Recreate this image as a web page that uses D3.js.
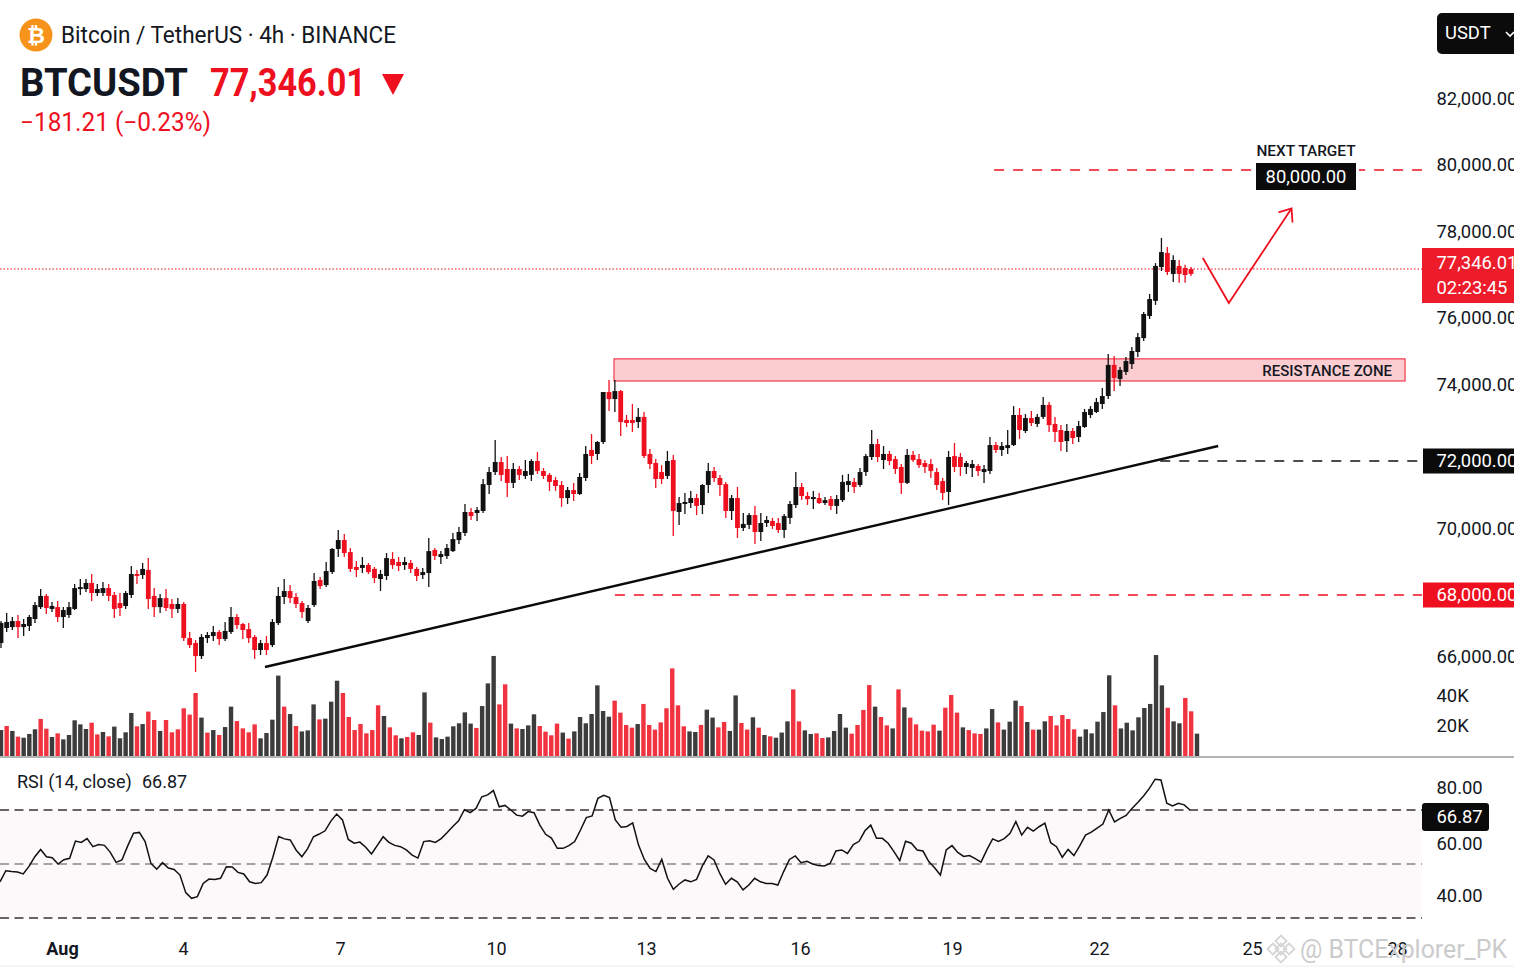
<!DOCTYPE html>
<html>
<head>
<meta charset="utf-8">
<title>BTCUSDT</title>
<script src="https://cdn.jsdelivr.net/npm/d3@7"></script>
<style>
  html, body { margin: 0; padding: 0; background: #fff; overflow: hidden; }
  text { font-family: Roboto, "Noto Sans", sans-serif; fill: #131722; }
  .axis-label text { font-size: 18.4px; }
  .axis-label .domain { display: none; }
</style>
</head>
<body>
<div id="vis"></div>
<script>
// candles: open, high, low, close
const candles = [
[66450,67160,66290,67095],[66935,67420,66805,67130],[66965,67290,66870,67160],[67160,67355,66610,66965],[66965,67225,66675,67065],
[67000,67355,66840,67290],[67225,67775,67095,67675],[67610,68180,67550,67970],[67970,68030,67385,67580],[67550,67775,67450,67645],
[67610,67805,67130,67290],[67290,67610,66935,67515],[67355,67775,67255,67610],[67550,68330,67520,68210],[68180,68485,68000,68240],
[68180,68485,68090,68365],[68365,68635,67805,68060],[68060,68330,67970,68180],[68060,68395,67970,68210],[68210,68330,67805,67970],
[68000,68090,67255,67550],[67740,68060,67320,67580],[67645,68120,67550,68060],[68000,68880,67900,68635],[68635,68760,68330,68575],
[68605,68970,68485,68790],[68760,69120,67550,67870],[67970,68210,67290,67610],[67610,68030,67420,67900],[67900,68180,67485,67580],
[67710,67870,67255,67550],[67550,67900,67420,67710],[67710,67775,66515,66610],[66610,66805,66290,66385],[66450,66550,65515,66030],
[66030,66740,65935,66645],[66610,66805,66450,66710],[66675,67000,66515,66805],[66805,66870,66385,66580],[66580,67130,66515,66840],
[66805,67610,66740,67290],[67290,67385,66900,67030],[67065,67095,66580,66870],[66900,67095,66450,66610],[66645,66710,65935,66225],
[66225,66550,66065,66450],[66450,66675,66065,66225],[66385,67225,66320,67130],[67095,68240,67030,67970],[67935,68485,67710,68120],
[68120,68300,67740,67900],[67935,68060,67580,67710],[67740,67805,67255,67450],[67160,67675,67095,67580],[67675,68665,67610,68425],
[68455,68545,68180,68270],[68300,69000,68240,68725],[68695,69425,68635,69395],[69395,69970,69150,69665],[69665,69850,69150,69270],
[69300,69425,68695,68790],[68850,69030,68545,68760],[68820,69150,68665,68910],[68910,68970,68635,68695],[68790,68850,68365,68515],
[68485,68760,68120,68635],[68575,69270,68455,69120],[69090,69300,68790,68910],[69000,69150,68725,68880],[68910,69150,68760,69000],
[68970,69060,68665,68790],[68790,68850,68425,68575],[68605,68820,68485,68695],[68665,69730,68240,69330],[69365,69425,69060,69180],
[69150,69330,68940,69240],[69180,69545,69090,69425],[69330,69880,69300,69695],[69665,70060,69545,69910],[69880,70735,69790,70500],
[70500,70620,70265,70380],[70470,70650,70235,70560],[70530,71470,70470,71320],[71295,71825,71030,71675],[71675,72550,71590,71970],
[71970,72105,71410,71590],[71765,72130,70940,71355],[71355,71940,71205,71765],[71765,71855,71440,71590],[71560,72025,71470,71705],
[71590,72050,71410,72000],[72000,72235,71620,71705],[71705,71795,71470,71560],[71590,71645,71120,71385],[71440,71530,71120,71265],
[71295,71410,70650,70910],[70910,71235,70735,71145],[71145,71355,70825,71030],[71030,71645,71000,71530],[71500,72395,71410,72185],
[72290,72710,71910,72130],[72185,72525,72025,72500],[72500,73815,72445,73815],[73815,74150,73315,73630],[73630,74150,73290,73840],
[73840,73870,72660,73025],[73080,73210,72895,73000],[73080,73500,72765,73000],[73025,73395,72870,73160],[73160,73290,72080,72130],
[72185,72315,71765,71910],[71940,72050,71205,71470],[71675,71880,71320,71470],[71560,72265,71470,72000],[72025,72160,69790,70530],
[70500,70940,70120,70765],[70735,71060,70440,70795],[70765,71120,70620,70910],[70910,71030,70410,70680],[70705,71320,70440,71295],
[71295,71940,71060,71705],[71705,71825,71385,71500],[71500,71590,70970,71295],[71320,71385,70325,70530],[70530,71000,70265,70910],
[70910,71235,69730,70030],[70030,70470,69940,70150],[70120,70470,70000,70410],[70410,70680,69545,69910],[69910,70470,69635,70175],
[70175,70380,70060,70265],[70235,70325,70000,70090],[70175,70325,69880,69970],[69970,70440,69730,70380],[70325,70825,70150,70735],
[70705,71675,70620,71235],[71235,71355,70850,70970],[70970,71090,70705,70880],[70880,71120,70590,70940],[70910,71060,70735,70765],
[70765,70940,70705,70850],[70880,70970,70560,70680],[70680,71000,70440,70880],[70850,71590,70795,71385],[71295,71620,71090,71410],
[71385,71500,71060,71235],[71295,71795,71235,71675],[71675,72185,71560,72130],[72105,72815,72025,72445],[72445,72580,71970,72105],
[72025,72395,71765,72185],[72185,72265,71880,72000],[72050,72130,71620,71765],[71825,71910,71030,71355],[71355,72315,71320,72160],
[72160,72265,71970,72025],[72050,72185,71795,71880],[71940,72025,71645,71825],[71910,72050,71500,71705],[71675,71795,71145,71295],
[71410,71500,70850,71060],[71090,72265,70705,72105],[72130,72475,71675,71825],[72105,72210,71560,71825],[71825,72000,71620,71940],
[71795,72025,71530,71910],[71855,71910,71560,71705],[71675,71880,71355,71765],[71705,72630,71620,72420],[72420,72500,72210,72290],
[72290,72500,72130,72395],[72340,72815,72185,72420],[72420,73445,72395,73210],[73210,73395,72580,72815],[72790,73235,72735,73130],
[73130,73315,72920,73000],[72975,73235,72895,73160],[73160,73685,73105,73475],[73475,73550,72765,72945],[72975,73160,72500,72765],
[72815,72945,72265,72500],[72525,72975,72235,72790],[72790,72870,72445,72605],[72630,73050,72500,72920],[72895,73370,72870,73290],
[73210,73445,73130,73370],[73290,73660,73260,73550],[73500,73920,73370,73710],[73710,74925,73630,74600],[74600,74865,73840,74210],
[74180,74540,73975,74450],[74390,74835,74300,74715],[74625,75135,74480,75015],[74985,75550,74835,75430],[75400,76165,75315,76110],
[76055,76660,75970,76520],[76470,77450,76360,77400],[77380,77895,77290,77645],[77630,77735,77180,77265],[77210,77590,76990,77505],
[77400,77505,76965,77210],[77365,77420,76965,77180],[77346,77380,77155,77210]
];

// volume in thousands
const volumes = [
17.3,20,16.7,12.9,12.2,14.7,17.8,24.7,18.2,12.7,15.1,11.1,14,23.8,21.1,18,22.2,14.4,16,13.1,
19.6,11.8,15.8,28.7,19.8,21.3,29.6,24,16.7,24,15.8,17.8,31.8,27.6,42,25.6,15.6,17.3,14,19.3,
32.9,23.3,18.4,15.8,21.1,11.8,15.3,24.2,53.6,32.9,28,20,16.4,17.1,34.4,24.4,24.9,36.2,50.2,42,
26,17.3,21.3,15.1,17.3,33.8,26.7,19.1,13.8,11.8,12.7,15.8,14,42.4,22.2,12.4,11.3,12.9,19.8,21.8,
29.1,21.6,18.7,33.3,48.4,66.7,34.4,47.8,21.6,18.4,18,20.4,27.8,20,16.2,13.8,21.6,15.6,11.6,16.4,
26,21.8,28,47.1,30,26.2,36.9,28.9,20.7,18.9,21.3,34.7,20.7,17.6,22.4,31.8,58.4,33.8,19.8,16.4,
16,20.7,30.9,25.6,19.1,22.7,16.7,40.4,22,17.6,25.8,18.9,14,13.1,12.2,15.6,23.1,44.4,23.1,17.1,
14.7,15.1,12,12.4,16.7,28,18.9,14.9,20.7,30.7,47.3,32.9,26,20.4,18.4,44.4,32.4,25.6,21.1,16.9,
16.4,20.9,16.9,32.2,40.7,28.9,19.1,17.3,15.1,14.7,18.4,31.3,22.4,17.6,22.9,36.9,33.3,22.7,17.6,17.6,
23.1,26.7,20.4,27.3,24.7,17.8,12.9,17.8,15.1,22.9,29.3,53.8,33.8,18.4,22.2,17.1,25.8,32,34.7,67.3,
47.1,32.2,23.1,21.8,38.7,29.8,14.9
];
// u = up bar, d = down bar
const volumeSides = (
  'u d u d u u u d d u d u u u u u d d u d u u u u d u d d u d d d d d d u d u d u ' +
  'u d d d d u u u u d u d u u u d u u u d d d d d d d u d d u d d u u d u u u u u ' +
  'u u d u u u d d u d u u u d d d d u d u u u u u u u d d d d u d d d d d d d d u ' +
  'u d u u d d u u d d u d u d u u u d d u u d d u u u u d d d d u d d u d u d d d ' +
  'd d u d d d u d d d u u d u u u d u d u u d d d d d u u u u u u d u u u u u u u ' +
  'u d u u d d u').split(' ');

const rsiValues = [
43.4,47.5,47.2,47.0,46.3,49.1,52.7,55.4,52.7,52.3,50.0,51.6,52.1,58.5,58.0,59.4,56.4,57.2,56.9,54.3,
50.6,51.5,56.7,61.4,61.7,58.3,50.2,48.1,50.5,48.5,48.0,45.9,39.4,37.3,37.9,42.8,44.4,44.3,44.7,49.0,
48.9,46.9,46.3,43.4,42.8,43.1,45.9,52.5,60.2,59.3,58.9,55.2,52.7,55.7,60.1,61.1,62.3,65.9,68.5,66.3,
59.1,57.7,58.1,56.2,53.7,56.9,60.1,58.0,56.9,56.4,55.2,53.3,52.2,58.3,58.6,58.0,59.4,61.6,63.9,66.0,
70.1,69.0,70.6,74.9,75.6,77.2,71.2,71.7,70.0,68.1,67.7,69.4,69.0,64.4,61.0,59.6,55.8,55.8,56.8,58.3,
62.6,67.2,67.8,74.3,75.4,74.6,66.3,63.6,63.9,65.2,57.0,51.7,48.4,47.2,51.7,44.7,40.6,42.6,44.1,43.4,
44.3,49.3,53.0,51.5,46.5,42.5,44.7,43.4,40.4,42.2,44.7,43.4,42.8,42.8,42.2,47.2,51.7,53.0,50.5,51.0,
50.0,49.4,49.3,50.2,54.8,55.2,53.9,57.2,58.4,62.3,64.4,59.5,59.5,57.7,54.6,51.2,58.4,57.7,55.2,54.8,
50.9,48.6,45.9,55.2,56.8,54.3,52.8,53.1,52.0,50.7,55.2,59.3,58.4,59.4,61.4,65.7,60.7,63.6,62.2,63.8,
65.1,57.9,56.4,52.5,55.4,53.1,56.7,60.7,61.8,63.3,64.8,70.0,65.6,66.9,68.0,70.6,72.8,75.2,78.0,81.4,
81.1,72.5,71.5,72.5,71.9,70.0
];

const priceTicks = [82000, 80000, 78000, 76000, 74000, 70000, 66000];
const volumeTicks = [40, 20];
const rsiTicks = [80, 60, 40];
const rsiLevels = [70, 50, 30];
const dayTicks = [1, 4, 7, 10, 13, 16, 19, 22, 25, 28];

const lastPrice = 77346.01;
const lastRsi = 66.87;

const width = 1514;
const height = 974;
const plotRight = 1422;
const axisX = 1436.5;
const red = '#ee0f1f';
const dark = '#111111';

const svg = d3.select('#vis')
    .append('svg')
    .attr('width', width)
    .attr('height', height)
    .style('display', 'block');

// the price axis of the picture is not evenly spaced, so the scale follows its labels
const yPrice = d3.scaleLinear()
    .domain([82000, 80000, 78000, lastPrice, 76000, 74000, 72000, 70000, 68000, 66000])
    .range([99, 170, 232, 269, 318, 385, 461, 529, 595, 657]);

// bars are not quite evenly spaced either
const xCandle = d3.scaleLinear().domain([0, 26, 51, 99, 148, 202]).range([1, 148.3, 296, 585.7, 871.7, 1191]);
const xVolume = d3.scaleLinear().domain([0, 26, 51, 68, 138, 206]).range([1, 148.3, 296, 395.7, 799, 1197]);
const xRsi = d3.scaleLinear().domain([0, rsiValues.length - 1]).range([0, 1190]);
const xDay = d3.scaleLinear().domain(dayTicks).range([62, 183, 340, 496, 646, 800, 952, 1099, 1252, 1397]);

const yVolume = d3.scaleLinear().domain([0, 40]).range([756, 696]);
const yRsi = d3.scaleLinear().domain([30, 70]).range([918, 810]);
const yRsiLabel = d3.scaleLinear().domain([80, 60, 40]).range([788, 844, 896]);

// resistance zone goes behind the candles
svg.append('rect')
    .attr('x', xCandle(103.85))
    .attr('y', yPrice(74780))
    .attr('width', xCandle(238.2) - xCandle(103.85))
    .attr('height', yPrice(74120) - yPrice(74780))
    .style('fill', '#fbcdd1')
    .style('stroke', '#f0394a')
    .style('stroke-width', 1.2);

svg.append('text')
    .attr('x', 1392)
    .attr('y', 376)
    .attr('text-anchor', 'end')
    .style('font-size', '15px')
    .style('font-weight', 500)
    .text('RESISTANCE ZONE');

// last price line
svg.append('line')
    .attr('x1', 0)
    .attr('x2', plotRight)
    .attr('y1', yPrice(lastPrice))
    .attr('y2', yPrice(lastPrice))
    .style('stroke', red)
    .style('stroke-width', 1.2)
    .style('stroke-dasharray', '1.5 2');

// dashed levels
const levels = [
  {price: 80000, from: 168.7, color: red},
  {price: 72000, from: 196.8, color: dark},
  {price: 68000, from: 104, color: red}
];
svg.selectAll('.level')
    .data(levels)
    .enter()
    .append('line')
    .attr('class', 'level')
    .attr('x1', d => xCandle(d.from))
    .attr('x2', plotRight)
    .attr('y1', d => yPrice(d.price))
    .attr('y2', d => yPrice(d.price))
    .style('stroke', d => d.color)
    .style('stroke-width', 1.5)
    .style('stroke-dasharray', '10 9');

// candle wicks then bodies
const candle = svg.selectAll('.candle')
    .data(candles)
    .enter()
    .append('g')
    .attr('class', 'candle')
    .style('color', d => d[3] >= d[0] ? dark : red);

candle.append('line')
    .attr('x1', (d, i) => xCandle(i))
    .attr('x2', (d, i) => xCandle(i))
    .attr('y1', d => yPrice(d[1]))
    .attr('y2', d => yPrice(d[2]))
    .style('stroke', 'currentColor')
    .style('stroke-width', 1.3);

candle.append('rect')
    .attr('x', (d, i) => xCandle(i) - 2.4)
    .attr('width', 4.8)
    .attr('y', d => yPrice(Math.max(d[0], d[3])))
    .attr('height', d => Math.max(1.5, Math.abs(yPrice(d[0]) - yPrice(d[3]))))
    .style('fill', 'currentColor');

// trend line
svg.append('line')
    .attr('x1', xCandle(45.75))
    .attr('y1', yPrice(65677))
    .attr('x2', xCandle(206.6))
    .attr('y2', yPrice(72395))
    .style('stroke', '#0a0a0a')
    .style('stroke-width', 2.4);

// drawn projection arrow
const arrowPoints = [[204, 77541], [208.4, 76410], [219, 78760]];
const arrowLine = d3.line().x(d => xCandle(d[0])).y(d => yPrice(d[1]));
svg.append('path')
    .attr('d', arrowLine(arrowPoints))
    .style('fill', 'none')
    .style('stroke', red)
    .style('stroke-width', 1.8);
svg.append('path')
    .attr('transform', `translate(${xCandle(219)},${yPrice(78760)})`)
    .attr('d', 'M-13,4 L0,0 L1,14')
    .style('fill', 'none')
    .style('stroke', red)
    .style('stroke-width', 1.8);

// target label
svg.append('text')
    .attr('x', 1306)
    .attr('y', 156)
    .attr('text-anchor', 'middle')
    .style('font-size', '15.4px')
    .style('font-weight', 500)
    .text('NEXT TARGET');
svg.append('rect')
    .attr('x', 1253)
    .attr('y', 161)
    .attr('width', 106)
    .attr('height', 31)
    .style('fill', '#fff');
svg.append('rect')
    .attr('x', 1256)
    .attr('y', 163)
    .attr('width', 100)
    .attr('height', 27)
    .style('fill', '#0b0b0b');
svg.append('text')
    .attr('x', 1306)
    .attr('y', 183)
    .attr('text-anchor', 'middle')
    .style('font-size', '18.4px')
    .style('fill', '#fff')
    .text(d3.format(',.2f')(80000));

// volume bars
svg.selectAll('.vol')
    .data(volumes)
    .enter()
    .append('rect')
    .attr('class', 'vol')
    .attr('x', (d, i) => xVolume(i) - 2.2)
    .attr('width', 4.4)
    .attr('y', d => yVolume(d))
    .attr('height', d => yVolume(0) - yVolume(d))
    .style('fill', (d, i) => volumeSides[i] === 'd' ? red : '#1a1a1a')
    .style('opacity', 0.85);

// pane separator
svg.append('line')
    .attr('x1', 0)
    .attr('x2', width)
    .attr('y1', 757)
    .attr('y2', 757)
    .style('stroke', '#6b6b6b')
    .style('stroke-width', 1.2);

// RSI pane
svg.append('rect')
    .attr('x', 0)
    .attr('y', yRsi(70))
    .attr('width', plotRight)
    .attr('height', yRsi(30) - yRsi(70))
    .style('fill', '#fcf9fb');

svg.selectAll('.rsi-level')
    .data(rsiLevels)
    .enter()
    .append('line')
    .attr('class', 'rsi-level')
    .attr('x1', 0)
    .attr('x2', plotRight)
    .attr('y1', d => yRsi(d))
    .attr('y2', d => yRsi(d))
    .style('stroke', d => d === 50 ? '#8c8686' : '#3a3232')
    .style('stroke-width', 1.3)
    .style('stroke-dasharray', '9 5.5');

const rsiLine = d3.line()
    .x((d, i) => xRsi(i))
    .y(d => yRsi(d));

svg.append('path')
    .attr('d', rsiLine(rsiValues))
    .style('fill', 'none')
    .style('stroke', '#111')
    .style('stroke-width', 1.5);

svg.append('text')
    .attr('x', 17)
    .attr('y', 788)
    .style('font-size', '18px')
    .text('RSI (14, close)');
svg.append('text')
    .attr('x', 142)
    .attr('y', 788)
    .style('font-size', '18px')
    .text(lastRsi.toFixed(2));

// axes
svg.append('g')
    .attr('class', 'axis-label')
    .attr('transform', `translate(${axisX},0)`)
    .call(d3.axisRight(yPrice).tickValues(priceTicks).tickSize(0).tickPadding(0).tickFormat(d3.format(',.2f')))
    .call(g => g.selectAll('.tick').filter(d => d === 80000).select('text').attr('y', -5));

svg.append('g')
    .attr('class', 'axis-label')
    .attr('transform', `translate(${axisX},0)`)
    .call(d3.axisRight(yVolume).tickValues(volumeTicks).tickSize(0).tickPadding(0).tickFormat(d => d + 'K'));

svg.append('g')
    .attr('class', 'axis-label')
    .attr('transform', `translate(${axisX},0)`)
    .call(d3.axisRight(yRsiLabel).tickValues(rsiTicks).tickSize(0).tickPadding(0).tickFormat(d3.format('.2f')));

svg.append('g')
    .attr('class', 'axis-label')
    .attr('transform', 'translate(0,944)')
    .call(d3.axisBottom(xDay).tickValues(dayTicks).tickSize(0).tickPadding(0).tickFormat(d => d === 1 ? 'Aug' : d))
    .call(g => g.selectAll('text').style('font-size', '18px').attr('dy', '0.6em'))
    .call(g => g.selectAll('.tick').filter(d => d === 1).select('text').style('font-weight', 700));

svg.append('line')
    .attr('x1', 0)
    .attr('x2', width)
    .attr('y1', 966)
    .attr('y2', 966)
    .style('stroke', '#ececec');

// axis tags
const tags = [
  {y: yPrice(72000), label: d3.format(',.2f')(72000), color: '#0b0b0b'},
  {y: yPrice(68000), label: d3.format(',.2f')(68000), color: red}
];
svg.selectAll('.tag')
    .data(tags)
    .enter()
    .append('rect')
    .attr('class', 'tag')
    .attr('x', plotRight + 1)
    .attr('y', d => d.y - 12.5)
    .attr('width', width - plotRight)
    .attr('height', 25)
    .style('fill', d => d.color);
svg.selectAll('.tag-text')
    .data(tags)
    .enter()
    .append('text')
    .attr('class', 'tag-text')
    .attr('x', axisX)
    .attr('y', d => d.y + 6)
    .style('font-size', '18.4px')
    .style('fill', '#fff')
    .text(d => d.label);

svg.append('rect')
    .attr('x', plotRight)
    .attr('y', 248)
    .attr('width', width - plotRight)
    .attr('height', 55)
    .style('fill', '#ec1c2b');
svg.append('text')
    .attr('x', axisX)
    .attr('y', 269)
    .style('font-size', '18.4px')
    .style('fill', '#fff')
    .text(d3.format(',.2f')(lastPrice));
svg.append('text')
    .attr('x', axisX)
    .attr('y', 294)
    .style('font-size', '18.4px')
    .style('fill', '#fff')
    .text('02:23:45');

svg.append('rect')
    .attr('x', plotRight)
    .attr('y', 803)
    .attr('width', 67)
    .attr('height', 28)
    .attr('rx', 3)
    .style('fill', '#0b0b0b');
svg.append('text')
    .attr('x', axisX)
    .attr('y', 823)
    .style('font-size', '18.4px')
    .style('fill', '#fff')
    .text(lastRsi.toFixed(2));

// USDT button
svg.append('rect')
    .attr('x', 1437)
    .attr('y', 13)
    .attr('width', 90)
    .attr('height', 41)
    .attr('rx', 5)
    .style('fill', '#0b0b0b');
svg.append('text')
    .attr('x', 1445)
    .attr('y', 39)
    .style('font-size', '18.4px')
    .style('fill', '#fff')
    .text('USDT');
svg.append('path')
    .attr('d', 'M1506,32 L1510,36 L1514,32')
    .style('fill', 'none')
    .style('stroke', '#fff')
    .style('stroke-width', 1.6);

// header
svg.append('circle')
    .attr('cx', 36)
    .attr('cy', 35)
    .attr('r', 16.5)
    .style('fill', '#f7931a');
svg.append('text')
    .attr('x', 36)
    .attr('y', 43)
    .attr('text-anchor', 'middle')
    .style('font-size', '22px')
    .style('font-weight', 700)
    .style('font-family', '"DejaVu Sans", sans-serif')
    .style('fill', '#fff')
    .text('\u20BF');
svg.append('text')
    .attr('x', 61)
    .attr('y', 43)
    .attr('textLength', 335)
    .attr('lengthAdjust', 'spacingAndGlyphs')
    .style('font-size', '23px')
    .text('Bitcoin / TetherUS \u00B7 4h \u00B7 BINANCE');
svg.append('text')
    .attr('x', 20)
    .attr('y', 96)
    .attr('textLength', 168)
    .attr('lengthAdjust', 'spacingAndGlyphs')
    .style('font-size', '39px')
    .style('font-weight', 700)
    .text('BTCUSDT');
svg.append('text')
    .attr('x', 210)
    .attr('y', 96)
    .attr('textLength', 156)
    .attr('lengthAdjust', 'spacingAndGlyphs')
    .style('font-size', '39px')
    .style('font-weight', 700)
    .style('fill', red)
    .text(d3.format(',.2f')(lastPrice));
svg.append('path')
    .attr('d', 'M382,74 L404,74 L393,95 Z')
    .style('fill', red);
svg.append('text')
    .attr('x', 20)
    .attr('y', 131)
    .attr('textLength', 191)
    .attr('lengthAdjust', 'spacingAndGlyphs')
    .style('font-size', '25px')
    .style('fill', red)
    .text('\u2212181.21 (\u22120.23%)');

// watermark, four small diamonds round a middle one
const logoDiamonds = [[0, -8], [-8, 0], [8, 0], [0, 8], [0, 0]];
svg.selectAll('.logo')
    .data(logoDiamonds)
    .enter()
    .append('path')
    .attr('class', 'logo')
    .attr('transform', d => `translate(${1281 + d[0]},${949 + d[1]})`)
    .attr('d', 'M0,-5.5 L5.5,0 L0,5.5 L-5.5,0 Z')
    .style('fill', 'none')
    .style('stroke', '#d6d6d6')
    .style('stroke-width', 1.8);
svg.append('text')
    .attr('x', 1300)
    .attr('y', 958)
    .attr('textLength', 207)
    .attr('lengthAdjust', 'spacingAndGlyphs')
    .style('font-size', '25px')
    .style('fill', '#cbcbcb')
    .text('@ BTCExplorer_PK');
</script>
</body>
</html>
